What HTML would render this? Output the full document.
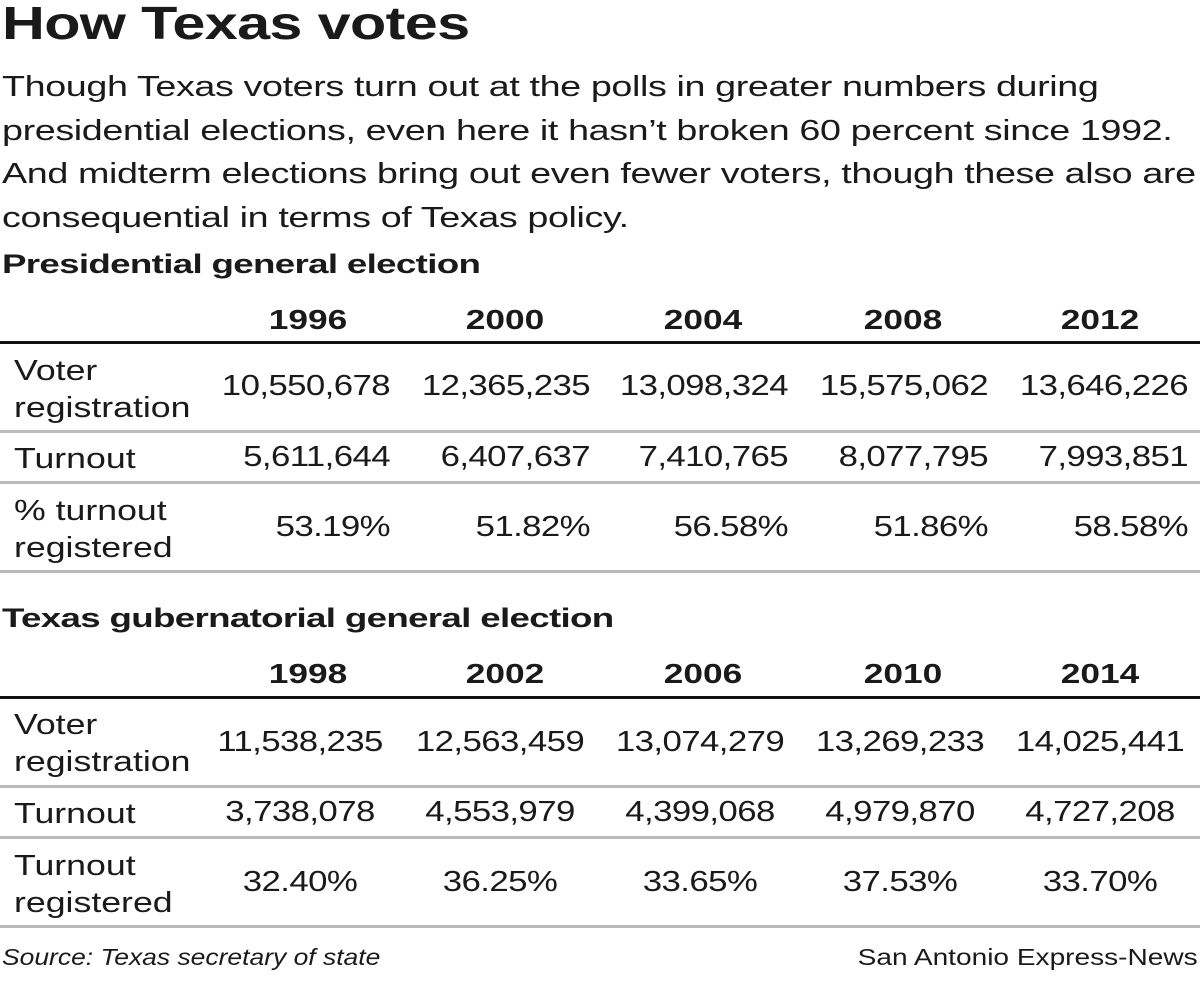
<!DOCTYPE html>
<html><head><meta charset="utf-8"><style>
body{margin:0;width:1200px;height:984px;background:#fff;font-family:"Liberation Sans",sans-serif;color:#1a1a1a;position:relative;overflow:hidden}
.a{position:absolute;white-space:nowrap}
.t{font-size:46px;font-weight:bold;left:2px;top:-4px;letter-spacing:-0.5px;transform:scaleX(1.29);transform-origin:left}
.p{font-size:29px;left:2px;line-height:43.5px;top:66px;letter-spacing:-0.3px;transform:scaleX(1.3);transform-origin:left}
.h{font-size:27px;font-weight:bold;left:2px;letter-spacing:-0.5px;transform:scaleX(1.36);transform-origin:left}
.y{font-size:28px;font-weight:bold;width:160px;text-align:center;transform:scaleX(1.26)}
.l{font-size:29px;left:14px;line-height:37px;transform:scaleX(1.23);transform-origin:left}
.n{font-size:29px;width:190px;letter-spacing:-0.5px}
.r{text-align:right;transform:scaleX(1.2);transform-origin:right}.c{text-align:center;transform:scaleX(1.2)}
.k{position:absolute;left:0;width:1200px;height:3px;background:#111}
.g{position:absolute;left:0;width:1200px;height:3px;background:#bbb}
.s{font-size:23px;top:944px}
</style></head><body>
<div class="a t">How Texas votes</div>
<div class="a p">Though Texas voters turn out at the polls in greater numbers during<br>presidential elections, even here it hasn’t broken 60 percent since 1992.<br>And midterm elections bring out even fewer voters, though these also are<br>consequential in terms of Texas policy.</div>
<div class="a h" style="top:249px">Presidential general election</div>
<div class="a y" style="left:228px;top:304px">1996</div>
<div class="a y" style="left:425px;top:304px">2000</div>
<div class="a y" style="left:623px;top:304px">2004</div>
<div class="a y" style="left:823px;top:304px">2008</div>
<div class="a y" style="left:1020px;top:304px">2012</div>
<div class="k" style="top:341px"></div>
<div class="a l" style="top:353px">Voter<br>registration</div>
<div class="a n r" style="left:200px;top:370px">10,550,678</div>
<div class="a n r" style="left:400px;top:370px">12,365,235</div>
<div class="a n r" style="left:598px;top:370px">13,098,324</div>
<div class="a n r" style="left:798px;top:370px">15,575,062</div>
<div class="a n r" style="left:998px;top:370px">13,646,226</div>
<div class="g" style="top:430px"></div>
<div class="a l" style="top:441px">Turnout</div>
<div class="a n r" style="left:200px;top:441px">5,611,644</div>
<div class="a n r" style="left:400px;top:441px">6,407,637</div>
<div class="a n r" style="left:598px;top:441px">7,410,765</div>
<div class="a n r" style="left:798px;top:441px">8,077,795</div>
<div class="a n r" style="left:998px;top:441px">7,993,851</div>
<div class="g" style="top:481px"></div>
<div class="a l" style="top:493px">% turnout<br>registered</div>
<div class="a n r" style="left:200px;top:511px">53.19%</div>
<div class="a n r" style="left:400px;top:511px">51.82%</div>
<div class="a n r" style="left:598px;top:511px">56.58%</div>
<div class="a n r" style="left:798px;top:511px">51.86%</div>
<div class="a n r" style="left:998px;top:511px">58.58%</div>
<div class="g" style="top:570px"></div>
<div class="a h" style="top:603px">Texas gubernatorial general election</div>
<div class="a y" style="left:228px;top:658px">1998</div>
<div class="a y" style="left:425px;top:658px">2002</div>
<div class="a y" style="left:623px;top:658px">2006</div>
<div class="a y" style="left:823px;top:658px">2010</div>
<div class="a y" style="left:1020px;top:658px">2014</div>
<div class="k" style="top:696px"></div>
<div class="a l" style="top:707px">Voter<br>registration</div>
<div class="a n c" style="left:205px;top:726px">11,538,235</div>
<div class="a n c" style="left:405px;top:726px">12,563,459</div>
<div class="a n c" style="left:605px;top:726px">13,074,279</div>
<div class="a n c" style="left:805px;top:726px">13,269,233</div>
<div class="a n c" style="left:1005px;top:726px">14,025,441</div>
<div class="g" style="top:785px"></div>
<div class="a l" style="top:796px">Turnout</div>
<div class="a n c" style="left:205px;top:796px">3,738,078</div>
<div class="a n c" style="left:405px;top:796px">4,553,979</div>
<div class="a n c" style="left:605px;top:796px">4,399,068</div>
<div class="a n c" style="left:805px;top:796px">4,979,870</div>
<div class="a n c" style="left:1005px;top:796px">4,727,208</div>
<div class="g" style="top:836px"></div>
<div class="a l" style="top:848px">Turnout<br>registered</div>
<div class="a n c" style="left:205px;top:866px">32.40%</div>
<div class="a n c" style="left:405px;top:866px">36.25%</div>
<div class="a n c" style="left:605px;top:866px">33.65%</div>
<div class="a n c" style="left:805px;top:866px">37.53%</div>
<div class="a n c" style="left:1005px;top:866px">33.70%</div>
<div class="g" style="top:925px"></div>
<div class="a s" style="left:2px;font-style:italic;transform:scaleX(1.15);transform-origin:left">Source: Texas secretary of state</div>
<div class="a s" style="right:2px;transform:scaleX(1.22);transform-origin:right">San Antonio Express-News</div>
</body></html>
